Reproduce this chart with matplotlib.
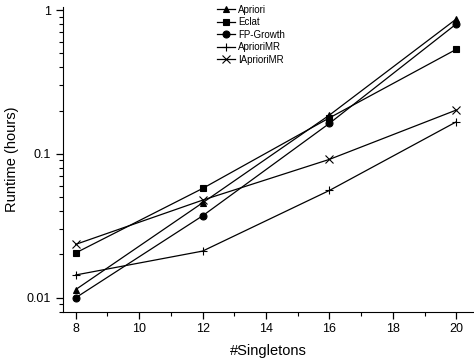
import matplotlib
matplotlib.use("Agg")
import matplotlib.pyplot as plt
from matplotlib.ticker import FixedLocator, FixedFormatter, LogLocator, NullFormatter

singletons = [8, 12, 16, 20]
apriori = [0.0114, 0.0457, 0.186, 0.866]
eclat = [0.0205, 0.0575, 0.178, 0.533]
fp_growth = [0.0100, 0.0371, 0.163, 0.80]
apriori_mr = [0.0144, 0.0211, 0.0557, 0.167]
iapriori_mr = [0.0235, 0.0477, 0.0916, 0.2017]

plt.rcParams["font.family"] = ["Liberation Sans", "DejaVu Sans"]

fig = plt.figure(figsize=(4.74, 3.61), dpi=100)
ax = fig.add_axes([0.133, 0.1366, 0.867, 0.844])

series = [
    ("Apriori", apriori, "^", 5),
    ("Eclat", eclat, "s", 4.5),
    ("FP-Growth", fp_growth, "o", 5),
    ("AprioriMR", apriori_mr, "+", 6),
    ("IAprioriMR", iapriori_mr, "x", 6),
]
for name, vals, mk, ms in series:
    ax.plot(singletons, vals, color="black", lw=0.9, marker=mk, markersize=ms,
            markeredgewidth=0.8, label=name)

ax.set_yscale("log")
ax.set_ylim(0.008, 1.05)
ax.set_xlim(7.6, 20.56)
ax.yaxis.set_major_locator(FixedLocator([0.01, 0.1, 1]))
ax.yaxis.set_major_formatter(FixedFormatter(["0.01", "0.1", "1"]))
ax.yaxis.set_minor_locator(LogLocator(base=10, subs=range(2, 10)))
ax.yaxis.set_minor_formatter(NullFormatter())
ax.set_xticks([8, 10, 12, 14, 16, 18, 20])
ax.set_xticks([9, 11, 13, 15, 17, 19], minor=True)

for side in ("top", "right"):
    ax.spines[side].set_visible(False)
ax.tick_params(which="major", length=5, width=0.9, labelsize=9)
ax.tick_params(which="minor", length=3, width=0.8)

ax.set_xlabel("#Singletons", fontsize=10.5, labelpad=6)
ax.set_ylabel("Runtime (hours)", fontsize=10.5, labelpad=6)

ax.legend(loc="upper left", bbox_to_anchor=(0.365, 1.02), frameon=False,
          fontsize=7, handlelength=1.9, handletextpad=0.3, labelspacing=0.25,
          borderaxespad=0)

fig.savefig("out.png", dpi=100)
